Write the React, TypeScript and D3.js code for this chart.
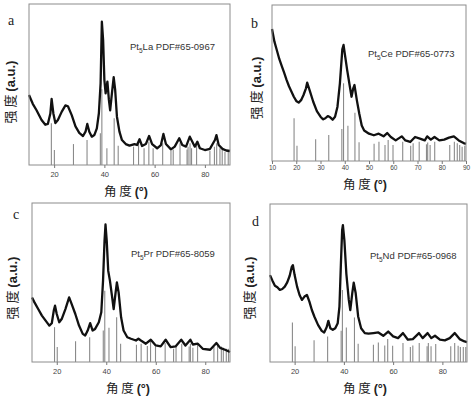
import React, { useEffect, useRef } from 'react';
import * as d3 from 'd3';

// measured patterns: [2theta (deg), intensity as % of plot height]
const curveA: [number, number][] = [
  [10, 43.5], [11.5, 38], [13, 34], [15, 28], [16.5, 25], [17.5, 25.5], [18.5, 32], [19, 41], [19.7, 32],
  [20.5, 26], [21.5, 28], [23, 33], [24.5, 37], [25.5, 36.5], [27, 31], [28.5, 24], [30, 20], [31.5, 18],
  [32.5, 20.7], [33.2, 25.5], [34, 20.7], [35, 17.6], [36, 18.6], [37, 22.8], [37.8, 32], [38.5, 50.7],
  [39, 89], [39.5, 77.6], [40, 52.8], [40.5, 44.5], [41.2, 51.8], [41.8, 40.4], [42.3, 34], [43, 44.5],
  [43.7, 54.5], [44.3, 46.6], [45, 30], [46, 20.7], [47, 15.5], [48.5, 13], [50, 12], [52, 13], [53, 12.4],
  [54, 16], [55, 11.8], [56.5, 13], [57.8, 18], [59, 13], [61, 10.4], [62.5, 12.4], [63.5, 19.3], [64.5, 13],
  [66.5, 9.7], [68, 11.4], [69.8, 16.6], [71, 12.4], [72.5, 11.4], [74, 17.6], [75, 14.5], [76, 11.4],
  [77, 14.5], [78, 10.4], [80, 9.3], [82, 10], [84, 15.5], [84.6, 18.6], [85.5, 12.4], [87, 10], [88.5, 9],
  [90, 8.7],
];
const sticksA: [number, number][] = [
  [18.9, 26], [20.1, 9.3], [27.7, 13], [33.1, 15.5], [38.4, 19.7], [39.0, 47], [41.0, 10.4], [43.9, 29],
  [45.5, 12], [51.6, 11.4], [53.6, 13.5], [55.8, 10.4], [57.7, 14.5], [59.4, 10.4], [63.2, 13.5], [66.5, 8.9],
  [67.4, 9.7], [70.1, 13.5], [72.9, 9.7], [73.3, 11.4], [74.1, 13.5], [74.7, 10.4], [76.7, 12.4], [82.0, 8.9],
  [83.8, 11.4], [84.7, 13.5], [86.0, 10.4], [86.9, 9.3], [88.0, 8.3], [89.3, 9.3],
];

const curveB: [number, number][] = [
  [10, 84.6], [11, 76.5], [12, 71], [13, 65.4], [14, 61], [15, 56.6], [16, 52], [17, 47.9], [18, 44.6],
  [19, 41.2], [20, 38.5], [21, 37.4], [22, 39], [23, 42.3], [24, 46.6], [24.5, 50.2], [25.5, 45.5], [27, 38],
  [28.5, 32], [30, 28.4], [31, 26.7], [32, 27.4], [33, 28.8], [34, 28], [35, 26.5], [36, 28.4], [37, 34.8],
  [38, 49.8], [39, 71.6], [39.5, 74.4], [40, 69], [41, 58.3], [42, 48.7], [42.8, 41.2], [43.5, 46.6],
  [44, 48.7], [45, 38.9], [46, 30.3], [47, 22.8], [48, 19.6], [50, 17.5], [52, 16.5], [54, 17.5], [56, 15.8],
  [57.5, 17.9], [59, 15.4], [61, 13.2], [63.5, 15.8], [65, 13.2], [67, 12.2], [69, 15.4], [71, 14.3],
  [73, 13.2], [74, 15.8], [75.5, 13.7], [77, 15.4], [79, 13.2], [81, 13.7], [83, 15], [85, 15.8], [87, 13.2],
  [89, 11.5], [90, 11],
];
const sticksB: [number, number][] = [
  [19.1, 27.4], [20.3, 9.8], [28.0, 13.9], [33.4, 16.7], [38.8, 20.5], [39.5, 49.8], [41.3, 22.6],
  [44.2, 31], [45.9, 12], [52.1, 11.1], [54.1, 12.4], [56.6, 10.3], [57.9, 13.5], [59.9, 10.3], [63.9, 12.4],
  [67.2, 9.8], [68.2, 11.3], [70.7, 12.4], [73.7, 10.7], [74.2, 11.8], [75.2, 10.3], [77.1, 12.4],
  [83.3, 10.3], [85.2, 12.4], [86.4, 11.3], [87.4, 10.3], [88.4, 9.2], [89.5, 9.8],
];

const curveC: [number, number][] = [
  [10, 40.6], [11, 37.5], [12.5, 33.3], [14, 29.2], [15.5, 26], [17, 22.9], [18, 24.4], [18.8, 32.3],
  [19.3, 35.4], [20, 30.2], [21, 25], [22, 27], [23.5, 33.3], [25, 40.6], [26, 36.5], [27.5, 30.2],
  [29, 22.9], [30.5, 17.7], [31.5, 16.7], [32.5, 19.8], [33.5, 24.4], [34.5, 19.8], [35.5, 20.8], [37, 25],
  [38, 31.3], [38.7, 51], [39.3, 76], [39.7, 86.5], [40.2, 76], [40.8, 57.3], [41.5, 51], [42.3, 41.7],
  [43, 33.3], [43.7, 42.7], [44.3, 50], [45, 43.8], [46, 28.1], [47, 19.8], [48.5, 15.6], [50, 14.6],
  [52, 13.5], [53, 14.6], [54, 13.5], [56, 11.5], [58, 14], [60, 10.4], [62, 9.8], [64, 14], [66, 9.4],
  [68, 9.8], [70.3, 14], [72, 10.4], [74, 14], [75, 11], [77, 11.5], [79, 8.3], [82, 7.7], [84.5, 11.9],
  [86, 8.9], [88, 7.7], [90, 6.3],
];
const sticksC: [number, number][] = [
  [19.1, 21.9], [20.2, 9.4], [27.6, 13.1], [33.3, 15.6], [38.8, 19.8], [39.4, 44.8], [41.1, 21.5],
  [44.2, 28.1], [45.8, 11.5], [52.2, 10.8], [54.1, 11.5], [56.6, 10], [57.9, 13.5], [59.9, 9.8], [63.8, 11.9],
  [67.2, 8.3], [68.2, 9.4], [70.5, 11.5], [73.5, 9.8], [74.0, 11.5], [75.0, 9], [76.9, 11], [83.5, 9.4],
  [85.0, 11.5], [86.5, 9.8], [87.3, 9], [88.5, 8.3], [89.4, 8.3],
];

const curveD: [number, number][] = [
  [10, 55], [11, 51.5], [12, 48.3], [13, 47.3], [14, 45.6], [15, 46.2], [16, 47.7], [17, 50.4], [18, 54.6],
  [18.8, 60], [19.3, 61.3], [20, 55], [21, 47.7], [22, 42.4], [23, 39.3], [24, 41.4], [25, 42.4], [26, 38.2],
  [27, 32.9], [28, 28.8], [29.5, 23.5], [31, 19.7], [32, 18.7], [33, 22], [33.7, 26], [34.5, 21.4],
  [35.5, 20.4], [36.5, 21.4], [37.5, 24.6], [38.2, 35], [38.8, 62.4], [39.3, 83.4], [39.6, 86.6],
  [40.2, 77.1], [41, 56], [42, 39.3], [42.6, 32.9], [43.4, 43.5], [44, 50.2], [44.8, 43.5], [45.8, 28.8],
  [47, 21.4], [48.5, 18.3], [50, 17.9], [52, 18.3], [54, 18.7], [56, 16.6], [58, 19.3], [60, 16.2],
  [62, 15.1], [64, 18.3], [66, 14.1], [68, 14.5], [70.5, 18.3], [72, 15.1], [74, 18.3], [75.5, 15.1],
  [77, 16.6], [79, 14.1], [81, 13.7], [83, 15.1], [85, 18.3], [87, 14.5], [89, 13], [90, 12.6],
];
const sticksD: [number, number][] = [
  [19.1, 25], [20.2, 9.9], [27.9, 13.7], [33.4, 16.2], [38.9, 19.7], [39.4, 45.6], [41.0, 21.8],
  [44.3, 28.2], [45.8, 11.6], [52.0, 10.9], [54.0, 12.4], [56.6, 10.5], [57.8, 14.5], [59.8, 10.3],
  [64.0, 12], [67.0, 9.5], [68.0, 10.5], [70.6, 12], [73.8, 9.9], [74.3, 12], [75.4, 9.9], [77.3, 11.4],
  [83.4, 9.9], [85.0, 12], [86.4, 10.3], [87.3, 9.5], [88.5, 9.5], [89.5, 9.5],
];

const ticksEvery20 = [20, 40, 60, 80];
const ticksEvery10 = [10, 20, 30, 40, 50, 60, 70, 80, 90];

const panels = [
  { curve: curveA, sticks: sticksA, ticks: ticksEvery20, letter: 'a', phase: 'La', card: '65-0967',
    box: [29, 230, 4, 165], letterPos: [8, 25], cardPos: [130, 50], yLab: [10, 92], xLab: [126, 196], tickY: 177 },
  { curve: curveB, sticks: sticksB, ticks: ticksEvery10, letter: 'b', phase: 'Ce', card: '65-0773',
    box: [272, 466, 5, 161], letterPos: [251, 28], cardPos: [368, 57], yLab: [256, 88], xLab: [365, 189], tickY: 170 },
  { curve: curveC, sticks: sticksC, ticks: ticksEvery20, letter: 'c', phase: 'Pr', card: '65-8059',
    box: [32, 230, 203, 362], letterPos: [13, 219], cardPos: [131, 257], yLab: [12, 288], xLab: [128, 393], tickY: 374 },
  { curve: curveD, sticks: sticksD, ticks: ticksEvery20, letter: 'd', phase: 'Nd', card: '65-0968',
    box: [270, 467, 204, 362], letterPos: [252, 226], cardPos: [370, 259], yLab: [249, 288], xLab: [365, 393], tickY: 374 },
];

const App = () => {
  const ref = useRef<SVGSVGElement>(null);

  useEffect(() => {
    const svg = d3.select(ref.current);
    svg.selectAll('*').remove();
    svg.append('rect').attr('width', 474).attr('height', 397).attr('fill', '#fff');

    panels.forEach(p => {
      const [x0, x1, y0, y1] = p.box;
      const x = d3.scaleLinear().domain([10, 90]).range([x0, x1]);
      const y = d3.scaleLinear().domain([0, 100]).range([y1, y0]);
      const g = svg.append('g');

      // reference sticks
      g.selectAll('line.stick')
        .data(p.sticks)
        .enter()
        .append('line')
        .attr('x1', d => x(d[0]))
        .attr('x2', d => x(d[0]))
        .attr('y1', y(0))
        .attr('y2', d => y(d[1]))
        .attr('stroke', '#8a8a8a')
        .attr('stroke-width', 1.1);

      // measured pattern, thick stroke stands in for the noise band
      const line = d3.line<[number, number]>().x(d => x(d[0])).y(d => y(d[1]));
      g.append('path')
        .datum(p.curve)
        .attr('d', line)
        .attr('fill', 'none')
        .attr('stroke', '#111')
        .attr('stroke-width', 2.3)
        .attr('stroke-linejoin', 'round');

      // frame
      g.append('rect')
        .attr('x', x0).attr('y', y0)
        .attr('width', x1 - x0).attr('height', y1 - y0)
        .attr('fill', 'none').attr('stroke', '#8c8c8c').attr('stroke-width', 1);

      // bottom axis
      const axis = g.append('g').attr('transform', `translate(0,${y1})`)
        .call(d3.axisBottom(x).tickValues(p.ticks).tickSize(3).tickPadding(3).tickFormat(d3.format('d')));
      axis.select('.domain').remove();
      axis.selectAll('line').attr('stroke', '#777');
      axis.selectAll('text')
        .attr('fill', '#444')
        .attr('font-family', 'Liberation Sans, Arial, sans-serif')
        .attr('font-size', p.ticks.length > 4 ? 6.5 : 7.5)
        .attr('y', null).attr('dy', null)
        .attr('transform', `translate(0,${p.tickY - y1})`);

      g.append('text')
        .attr('x', p.letterPos[0]).attr('y', p.letterPos[1])
        .attr('font-family', 'Liberation Serif, serif').attr('font-size', 14).attr('fill', '#222')
        .text(p.letter);

      const card = g.append('text')
        .attr('x', p.cardPos[0]).attr('y', p.cardPos[1])
        .attr('font-family', 'Liberation Sans, Arial, sans-serif').attr('font-size', 9.5).attr('fill', '#333');
      card.append('tspan').text('Pt');
      card.append('tspan').attr('font-size', 6.5).attr('dy', 2.5).text('5');
      card.append('tspan').attr('dy', -2.5).text(`${p.phase} PDF#${p.card}`);

      const yl = g.append('text')
        .attr('transform', `translate(${p.yLab[0] + 5},${p.yLab[1]}) rotate(-90)`)
        .attr('text-anchor', 'middle')
        .attr('font-size', 13).attr('fill', '#222');
      yl.append('tspan').attr('font-family', 'Noto Sans CJK SC, sans-serif').text('强 度 ');
      yl.append('tspan').attr('font-family', 'Liberation Sans, Arial, sans-serif').attr('font-weight', 'bold').text('(a.u.)');

      const xl = g.append('text')
        .attr('x', p.xLab[0]).attr('y', p.xLab[1])
        .attr('text-anchor', 'middle')
        .attr('font-size', 12.5).attr('fill', '#222');
      xl.append('tspan').attr('font-family', 'Noto Sans CJK SC, sans-serif').text('角 度 ');
      xl.append('tspan').attr('font-family', 'Liberation Sans, Arial, sans-serif').attr('font-weight', 'bold').text('(°)');
    });
  }, []);

  return (
    <svg ref={ref} width={474} height={397} style={{ position: 'absolute', left: 0, top: 0 }} />
  );
};

export default App;
